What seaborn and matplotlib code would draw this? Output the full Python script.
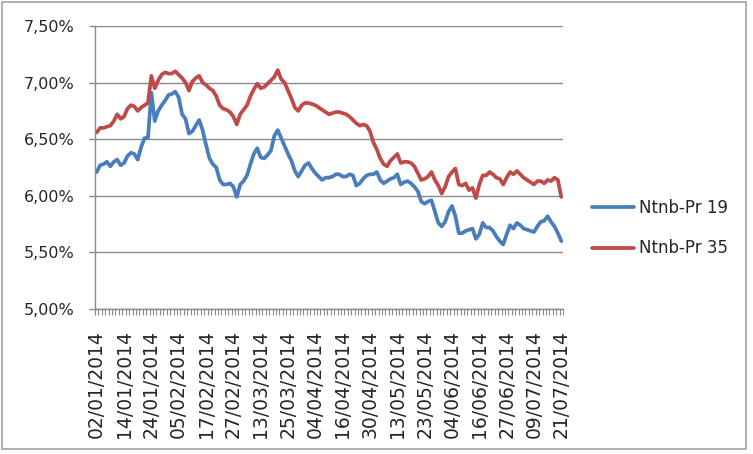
import pandas as pd
import seaborn as sns
import matplotlib.pyplot as plt
from matplotlib.patches import Rectangle
from matplotlib.ticker import FuncFormatter, MultipleLocator

# dias uteis 2014 (sem feriados nacionais)
holidays = ["2014-03-03", "2014-03-04", "2014-04-18", "2014-04-21",
            "2014-05-01", "2014-06-19"]
dates = pd.bdate_range("2014-01-02", "2014-07-21", freq="C", holidays=holidays)

ntnb_19 = [
    6.21, 6.27, 6.28, 6.30, 6.26, 6.30, 6.32, 6.27, 6.29, 6.35,
    6.38, 6.37, 6.32, 6.43, 6.51, 6.51, 6.91, 6.66, 6.75, 6.80,
    6.84, 6.89, 6.90, 6.92, 6.87, 6.72, 6.68, 6.55, 6.57, 6.62,
    6.67, 6.58, 6.45, 6.33, 6.28, 6.25, 6.14, 6.10, 6.10, 6.11,
    6.08, 5.99, 6.10, 6.13, 6.18, 6.28, 6.37, 6.42, 6.34, 6.33,
    6.36, 6.40, 6.53, 6.58, 6.51, 6.44, 6.37, 6.31, 6.22, 6.17,
    6.22, 6.27, 6.29, 6.24, 6.20, 6.17, 6.14, 6.16,
    6.16, 6.17, 6.19, 6.19, 6.17, 6.17, 6.19, 6.18, 6.09, 6.11,
    6.15, 6.18, 6.19, 6.19, 6.21, 6.14, 6.11, 6.13, 6.15, 6.16,
    6.19, 6.10, 6.12, 6.13, 6.11, 6.08, 6.04, 5.95, 5.93, 5.95,
    5.96, 5.86, 5.76, 5.73,
    5.77, 5.86, 5.91, 5.82, 5.67, 5.67, 5.69, 5.70, 5.71, 5.62,
    5.66, 5.76, 5.72, 5.72, 5.69, 5.64, 5.60, 5.57, 5.66, 5.74,
    5.71, 5.76, 5.74, 5.71, 5.70, 5.69, 5.68, 5.73, 5.77, 5.78,
    5.82, 5.77, 5.73, 5.67, 5.60,
]

ntnb_35 = [
    6.56, 6.60, 6.60, 6.61, 6.62, 6.66, 6.72, 6.68, 6.70, 6.77,
    6.80, 6.79, 6.75, 6.78, 6.80, 6.82, 7.06, 6.95, 7.02, 7.07,
    7.09, 7.08, 7.08, 7.10, 7.07, 7.04, 7.00, 6.93, 7.01, 7.04,
    7.06, 7.00, 6.98, 6.95, 6.93, 6.88, 6.80, 6.77, 6.76, 6.74,
    6.70, 6.63, 6.72, 6.76, 6.80, 6.88, 6.94, 6.99, 6.95, 6.96,
    6.99, 7.02, 7.05, 7.11, 7.03, 7.00, 6.93, 6.86, 6.78, 6.75,
    6.80, 6.82, 6.82, 6.81, 6.80, 6.78, 6.76, 6.74,
    6.72, 6.73, 6.74, 6.74, 6.73, 6.72, 6.70, 6.67, 6.64, 6.62,
    6.63, 6.62, 6.57, 6.47, 6.41, 6.33, 6.28, 6.26, 6.31, 6.34,
    6.37, 6.29, 6.30, 6.30, 6.29, 6.26, 6.20, 6.14, 6.15, 6.17,
    6.21, 6.14, 6.09, 6.02,
    6.08, 6.17, 6.21, 6.24, 6.10, 6.09, 6.11, 6.05, 6.07, 5.98,
    6.10, 6.18, 6.18, 6.21, 6.19, 6.16, 6.15, 6.10, 6.16, 6.21,
    6.19, 6.22, 6.19, 6.16, 6.14, 6.12, 6.10, 6.13, 6.13, 6.11,
    6.14, 6.13, 6.16, 6.14, 5.99,
]

series_names = ["Ntnb-Pr 19", "Ntnb-Pr 35"]
colors = ["#4A7EBB", "#BE4B48"]

n = len(dates)
df = pd.DataFrame({
    "pos": list(range(n)) * 2,
    "taxa": ntnb_19 + ntnb_35,
    "serie": [series_names[0]] * n + [series_names[1]] * n,
})

sns.set_style("white")
plt.rcParams["font.family"] = ["DejaVu Sans"]

fig = plt.figure(figsize=(7.53, 4.54), dpi=100)
ax = fig.add_axes([95 / 753, 1 - 309 / 454, (563 - 95) / 753, (309 - 26) / 454])

sns.lineplot(data=df, x="pos", y="taxa", hue="serie", palette=colors,
             linewidth=2.7, ax=ax)

ax.set_xlim(-0.5, n - 0.5)
ax.set_ylim(5.0, 7.5)
ax.yaxis.set_major_locator(MultipleLocator(0.5))
ax.yaxis.set_major_formatter(FuncFormatter(lambda v, p: f"{v:.2f}%".replace(".", ",")))
ax.grid(axis="y", color="#8a8a8a", linewidth=1.0)
ax.set_axisbelow(True)

step = 8
ax.set_xticks(range(0, n, step))
ax.set_xticklabels([dates[i].strftime("%d/%m/%Y") for i in range(0, n, step)],
                   rotation=90, fontsize=13.5)
ax.set_xticks([i - 0.5 for i in range(n + 1)], minor=True)
ax.tick_params(axis="x", which="major", length=0, pad=15)
ax.tick_params(axis="x", which="minor", length=4.5, color="#8a8a8a", width=0.8,
               direction="out", bottom=True)
ax.tick_params(axis="y", length=4.5, color="#8a8a8a", width=1.0, pad=10,
               labelsize=11.5, left=True, direction="out")

for s in ["top", "right"]:
    ax.spines[s].set_visible(False)
for s in ["left", "bottom"]:
    ax.spines[s].set_color("#8a8a8a")
    ax.spines[s].set_linewidth(1.0)

ax.set_xlabel("")
ax.set_ylabel("")

handles, labels = ax.get_legend_handles_labels()
ax.legend(handles, labels, loc="upper left", bbox_to_anchor=(592 / 753, 1 - 199 / 454),
          bbox_transform=fig.transFigure, frameon=False, fontsize=12,
          handlelength=2.5, handletextpad=0.3, borderpad=0, labelspacing=1.35,
          borderaxespad=0)

fig.patches.append(Rectangle((1.5 / 753, 1 - 449 / 454), 744 / 753, 447 / 454,
                             transform=fig.transFigure, fill=False,
                             edgecolor="#9a9a9a", linewidth=1.1))

fig.savefig("out.png", dpi=100)
